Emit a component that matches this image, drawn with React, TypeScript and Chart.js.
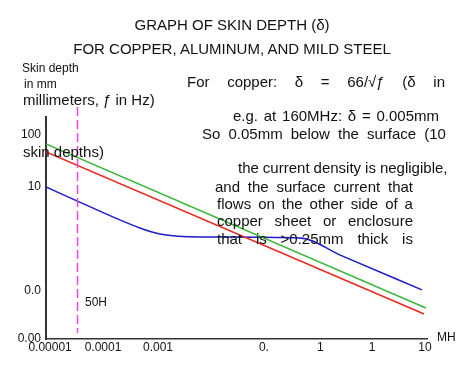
import React, { useEffect, useRef } from "react";
import { Chart, registerables } from "chart.js";

Chart.register(...registerables);

// Frequency in MHz, skin depth in mm
const freqRed = [1e-5, 9.0];
const depthRed = [47, 0.036];
const freqGreen = [1e-5, 9.6];
const depthGreen = [67, 0.047];
const freqBlue = [1e-5, 3.07e-5, 3.0e-4, 6.2e-4, 2.7e-3, 0.1, 0.43, 8.3];
const depthBlue = [10, 5.4, 1.63, 1.25, 1.09, 1.045, 0.49, 0.105];

const xTickValues = [1.16e-5, 7.9e-5, 5.8e-4, 2.7e-2, 0.21, 1.36, 9.3];
const xTickLabels = ["0.00001", "0.0001", "0.001", "0.", "1", "1", "10"];
const yTickValues = [0.0119, 0.1, 10, 100];
const yTickLabels = ["0.00", "0.0", "10", "100"];
const marker50Hz = 3.1e-5;

const FONT = "'Liberation Sans', Arial, sans-serif";

const toPts = (xs: number[], ys: number[]) => xs.map((x, i) => ({ x, y: ys[i] }));

const markerPlugin = {
  id: "marker50",
  afterDatasetsDraw(chart: any) {
    const { ctx, chartArea, scales } = chart;
    const x = Math.round(scales.x.getPixelForValue(marker50Hz)) + 0.5;
    ctx.save();
    ctx.strokeStyle = "#ec48dc";
    ctx.lineWidth = 1.5;
    ctx.setLineDash([9, 4]);
    ctx.beginPath();
    ctx.moveTo(x, chartArea.top - 10);
    ctx.lineTo(x, chartArea.bottom - 6);
    ctx.stroke();
    ctx.restore();
  },
};

function Line({ left, top, width, text, size = 15, justify = false }: any) {
  const words = text.split(" ");
  const base: any = {
    position: "absolute",
    left,
    top,
    height: 18,
    lineHeight: "18px",
    fontSize: size,
    fontFamily: FONT,
    color: "#111",
    whiteSpace: "nowrap",
  };
  if (justify) {
    return (
      <div style={{ ...base, width, display: "flex", justifyContent: "space-between", gap: 4 }}>
        {words.map((w: string, i: number) => (
          <span key={i}>{w}</span>
        ))}
      </div>
    );
  }
  return <div style={base}>{text}</div>;
}

export default function App() {
  const ref = useRef<HTMLCanvasElement>(null);

  useEffect(() => {
    if (!ref.current) return;
    Chart.defaults.font.family = FONT;
    const chart = new Chart(ref.current, {
      type: "line",
      data: {
        datasets: [
          {
            label: "Aluminum",
            data: toPts(freqGreen, depthGreen),
            borderColor: "#3cb83c",
            borderWidth: 1.5,
            pointRadius: 0,
          },
          {
            label: "Copper",
            data: toPts(freqRed, depthRed),
            borderColor: "#e8281e",
            borderWidth: 1.5,
            pointRadius: 0,
          },
          {
            label: "Mild steel",
            data: toPts(freqBlue, depthBlue),
            borderColor: "#1c1cc8",
            borderWidth: 1.5,
            pointRadius: 0,
            cubicInterpolationMode: "monotone",
          },
        ],
      },
      options: {
        responsive: false,
        animation: false,
        layout: { padding: { top: 117, right: 47, left: 0, bottom: 0 } },
        plugins: { legend: { display: false }, tooltip: { enabled: false }, title: { display: false } },
        scales: {
          x: {
            type: "logarithmic",
            min: 1e-5,
            max: 10,
            grid: { display: false, drawTicks: false },
            border: { color: "#333", width: 1.5 },
            afterBuildTicks: (axis: any) => {
              axis.ticks = xTickValues.map((v) => ({ value: v }));
            },
            afterFit: (axis: any) => {
              axis.height = 27;
            },
            ticks: {
              autoSkip: false,
              maxRotation: 0,
              padding: 1,
              color: "#111",
              font: { size: 12, family: FONT },
              callback: (_v: any, i: number) => xTickLabels[i],
            },
          },
          y: {
            type: "logarithmic",
            min: 0.0119,
            max: 222,
            grid: { display: false, drawTicks: false },
            border: { color: "#333", width: 2 },
            afterBuildTicks: (axis: any) => {
              axis.ticks = yTickValues.map((v) => ({ value: v }));
            },
            afterFit: (axis: any) => {
              axis.width = 46;
            },
            ticks: {
              autoSkip: false,
              padding: 5,
              color: "#111",
              font: { size: 12, family: FONT },
              callback: (_v: any, i: number) => yTickLabels[i],
            },
          },
        },
      } as any,
      plugins: [markerPlugin],
    });
    return () => chart.destroy();
  }, []);

  return (
    <div style={{ position: "absolute", left: 0, top: 0, width: 474, height: 366, background: "#fff", overflow: "hidden" }}>
      <canvas ref={ref} width={474} height={366} style={{ display: "block", position: "absolute", left: 0, top: 0 }} />
      <div style={{ position: "absolute", left: 0, top: 13, width: 464, textAlign: "center", fontFamily: FONT, fontSize: 15, lineHeight: "24px", color: "#111" }}>
        GRAPH OF SKIN DEPTH (δ)
        <br />
        FOR COPPER, ALUMINUM, AND MILD STEEL
      </div>
      <Line left={22} top={59} text="Skin depth" size={12} />
      <Line left={24} top={75} text="in mm" size={12} />
      <Line left={187} top={73} width={258} text="For copper: δ = 66/√ƒ (δ in" justify />
      <Line left={23} top={91} text="millimeters, ƒ in Hz)" />
      <Line left={233} top={107} width={206} text="e.g. at 160MHz: δ = 0.005mm" justify />
      <Line left={202} top={125} width={244} text="So 0.05mm below the surface (10" justify />
      <Line left={23} top={143} text="skin depths)" />
      <Line left={238} top={159} width={207} text="the current density is negligible," justify />
      <Line left={215} top={178} width={198} text="and the surface current that" justify />
      <Line left={217} top={195} width={196} text="flows on the other side of a" justify />
      <Line left={217} top={212} width={196} text="copper sheet or enclosure" justify />
      <Line left={217} top={230} width={196} text="that is >0.25mm thick is" justify />
      <Line left={85} top={293} text="50H" size={12} />
      <Line left={437} top={328} text="MH" size={12} />
    </div>
  );
}
